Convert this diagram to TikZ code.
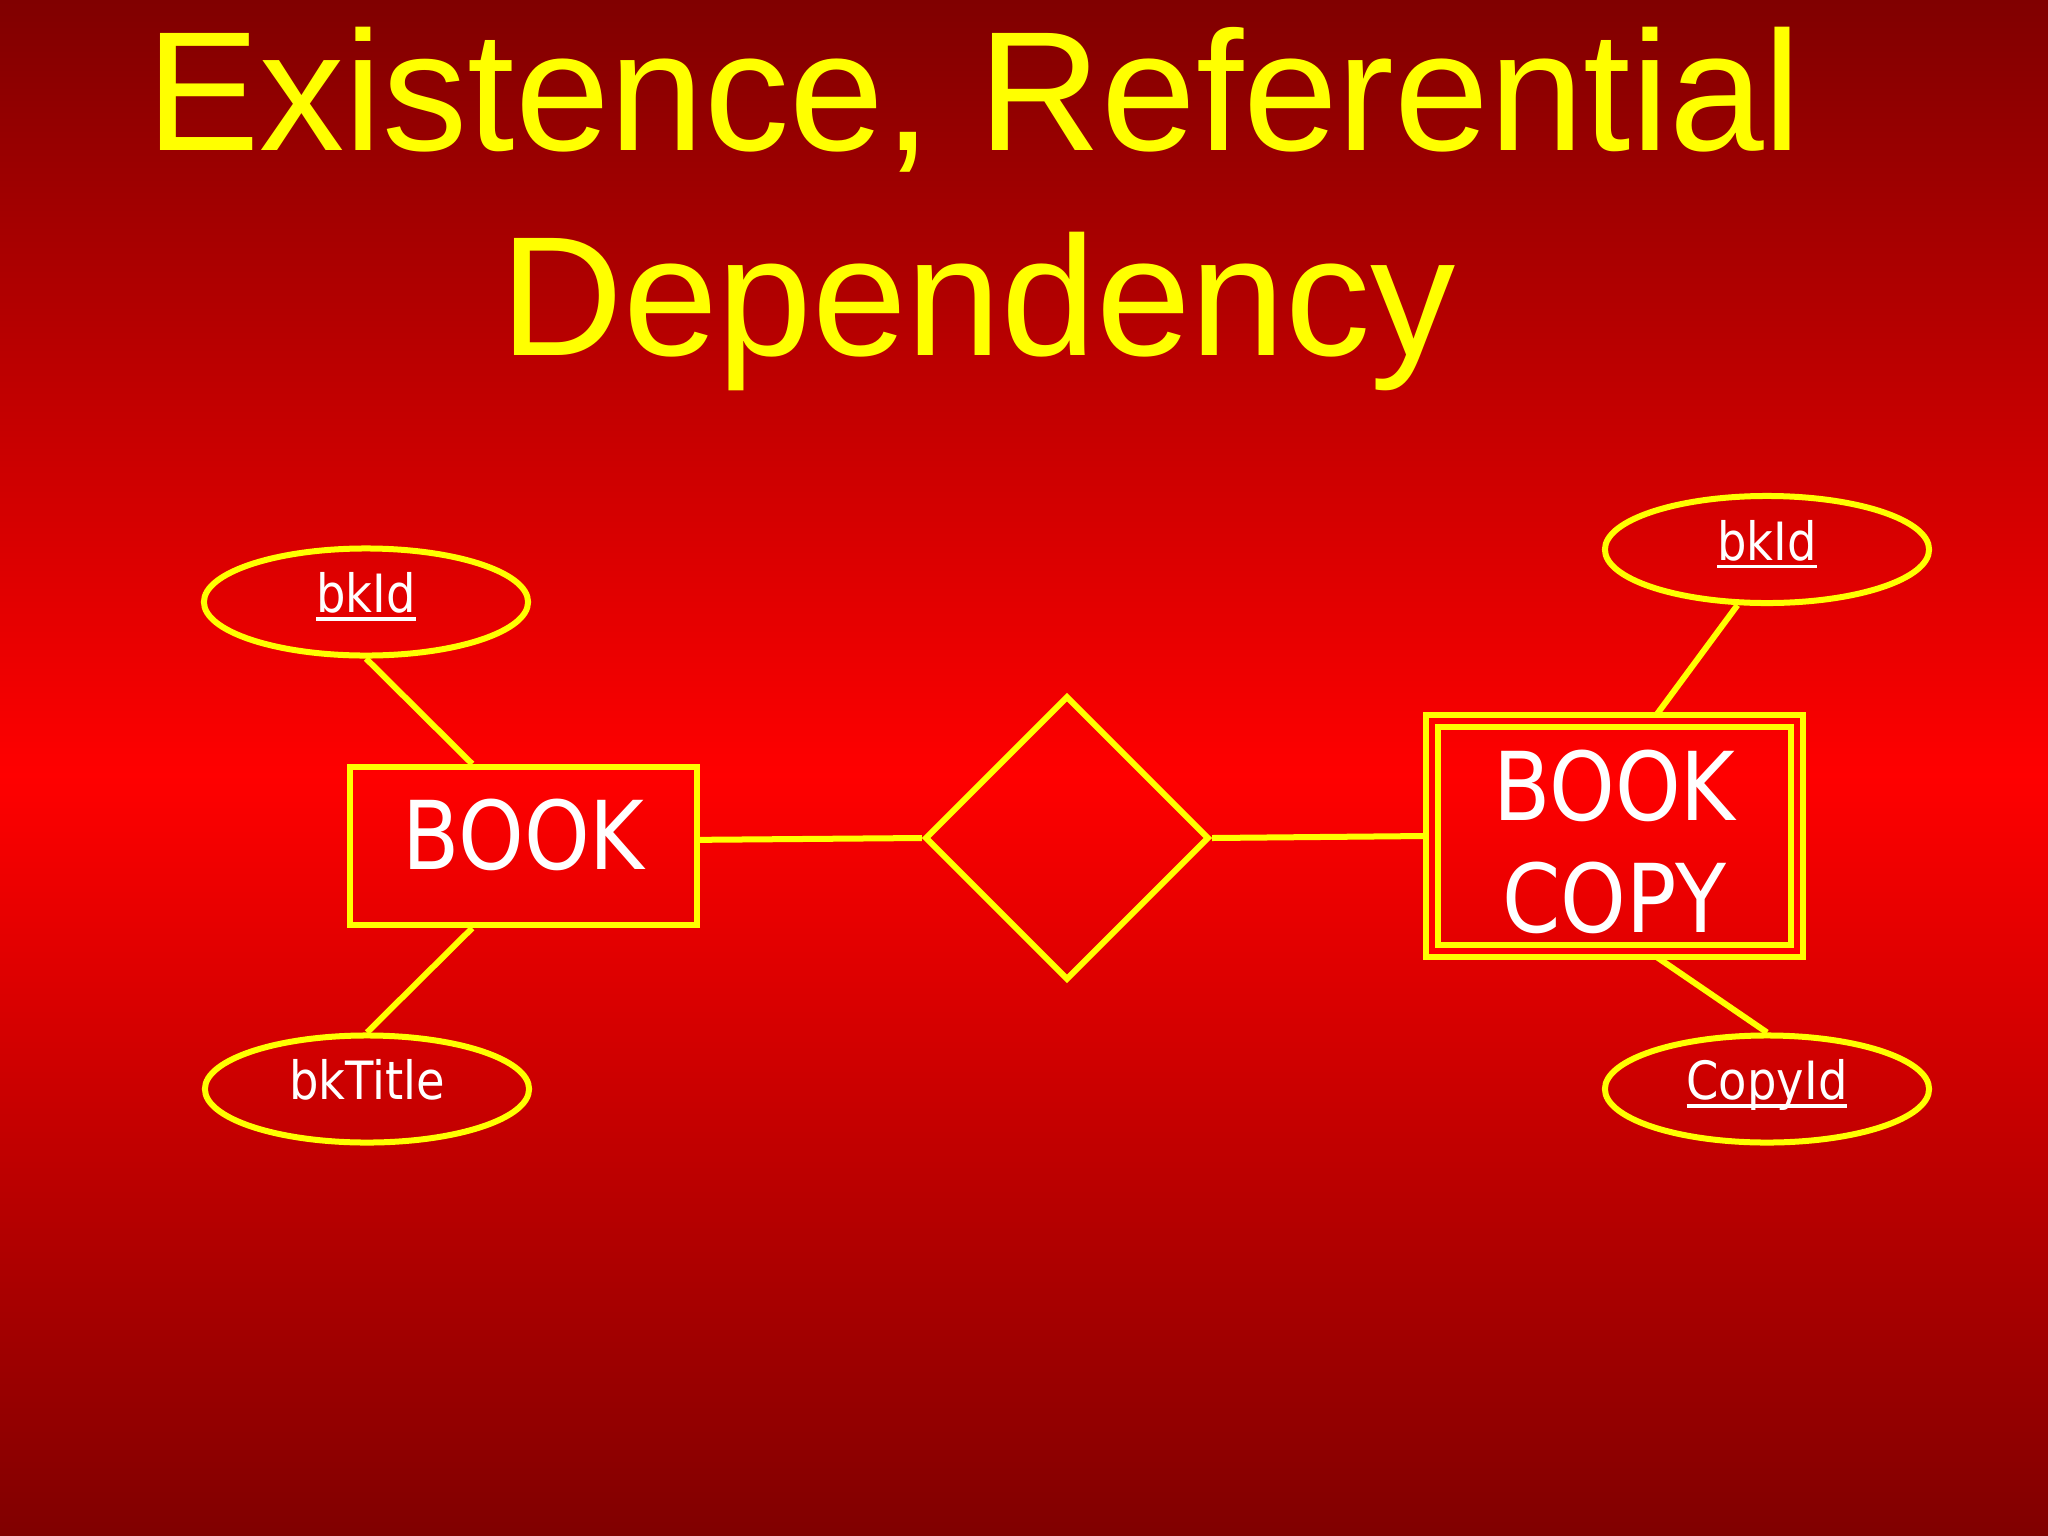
\documentclass[tikz,border=0pt]{standalone}
\usepackage{fontspec}
\setmainfont{Liberation Sans}
\newfontfamily\erfont{DejaVu Sans}[FakeStretch=0.88]
\usetikzlibrary{shapes.geometric}

\definecolor{slidedark}{RGB}{128,0,0}
\definecolor{slidered}{RGB}{255,0,0}
\definecolor{erline}{RGB}{255,255,0}

\newsavebox\keybox
\newcommand{\keyattr}[1]{\sbox\keybox{#1}\rlap{\rule[-2.4pt]{\wd\keybox}{1pt}}\usebox\keybox}

\begin{document}
\begin{tikzpicture} [x=0.01cm, y=-0.01cm]
\tikzstyle{title}=[anchor=base, inner sep=0pt, text=erline, font=\fontsize{48.4}{58}\selectfont];
\tikzstyle{entity}=[draw=erline, line width=0.06cm, rectangle, inner sep=0pt, text=white, font=\erfont\fontsize{27}{32}\selectfont];
\tikzstyle{weak}=[entity, double=slidered, double distance=0.06cm, outer sep=0.06cm, align=center];
\tikzstyle{rel}=[draw=erline, line width=0.06cm, diamond, aspect=1, inner sep=0pt, minimum width=2.84cm, minimum height=2.84cm];
\tikzstyle{attr}=[draw=erline, line width=0.06cm, ellipse, inner sep=0pt, minimum width=3.24cm, minimum height=1.07cm, text=white, font=\erfont\fontsize{15}{18}\selectfont, text height=0.40cm, text depth=0.19cm];
% slide background
\shade [top color=slidedark, bottom color=slidered] (0,0) rectangle (2048,775);
\shade [top color=slidered, bottom color=slidedark] (0,775) rectangle (2048,1536);
\useasboundingbox (0,0) rectangle (2048,1536);
\node [title] (title1) at (974,150) {Existence, Referential};
\node [title] (title2) at (978,355) {Dependency};
\node [entity, minimum width=3.47cm, minimum height=1.58cm, text height=0.69cm, text depth=0.23cm] (book) at (523.5,846) {BOOK};
\node [weak, minimum width=3.65cm, minimum height=2.29cm] (bookcopy) at (1614.5,836) {\rule{0pt}{0.82cm}BOOK\\COPY};
\node [rel] (hascopy) at (1067,838) {};
\node [attr] (bkid) at (366,602) {\keyattr{bkId}};
\node [attr] (bktitle) at (367,1089) {bkTitle};
\node [attr] (copybkid) at (1767,549.5) {\keyattr{bkId}};
\node [attr] (copyid) at (1767,1089) {\keyattr{CopyId}};
\draw [erline, line width=0.06cm] (bkid.south) -- (book.122)
(book.238) -- (bktitle.north)
(book.2) -- (hascopy.west)
(hascopy.east) -- (bookcopy.west)
(copybkid.242) -- (bookcopy.71)
(bookcopy.-71) -- (copyid.north)
;
\end{tikzpicture}
\end{document}
